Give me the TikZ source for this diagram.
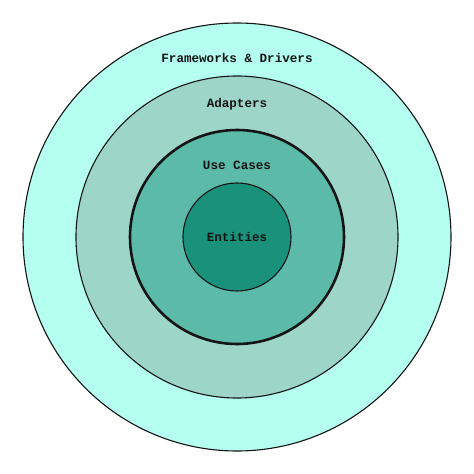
\documentclass[tikz,border=0pt]{standalone}
\usepackage{fontspec}
\setmonofont{Liberation Mono}
\usetikzlibrary{positioning}
\definecolor{RingOuter}{HTML}{B4FFEF}
\definecolor{RingAdapter}{HTML}{9DD6C9}
\definecolor{RingCase}{HTML}{5CBBA8}
\definecolor{RingCore}{HTML}{1A917A}
\definecolor{RingInk}{gray}{0.08}
\tikzset{
    onion/diagram/.style={
        x=1pt, y=1pt,
        font=\ttfamily\bfseries\fontsize{12.6}{14}\selectfont,
        text=RingInk
    },
    onion/ring/.style={
        circle, draw=RingInk, line width=1.1pt,
        inner sep=0pt, outer sep=0pt
    },
    onion/bold/.style={onion/ring, line width=2.6pt},
    onion/label/.style={inner sep=1pt, anchor=base}
}
\begin{document}
\begin{tikzpicture}[onion/diagram]
    \useasboundingbox (-237,-237) rectangle (237,237);
    \node[onion/ring, fill=RingOuter, minimum size=428] (frameworks) at (0,0) {};
    \node[onion/ring, fill=RingAdapter, minimum size=322] (adapters) at (0,0) {};
    \node[onion/bold, fill=RingCase, minimum size=214] (usecases) at (0,0) {};
    \node[onion/ring, fill=RingCore, minimum size=108] (entities) at (0,0) {};
    % labels sit near the top of each ring
    \node[onion/label] (frameworkstext) at (0,174) {Frameworks \& Drivers};
    \node[onion/label] (adapterstext) at (0,129) {Adapters};
    \node[onion/label] (usecasestext) at (0,68) {Use Cases};
    \node[onion/label] (entitiestext) at (0,-4) {Entities};
\end{tikzpicture}
\end{document}
